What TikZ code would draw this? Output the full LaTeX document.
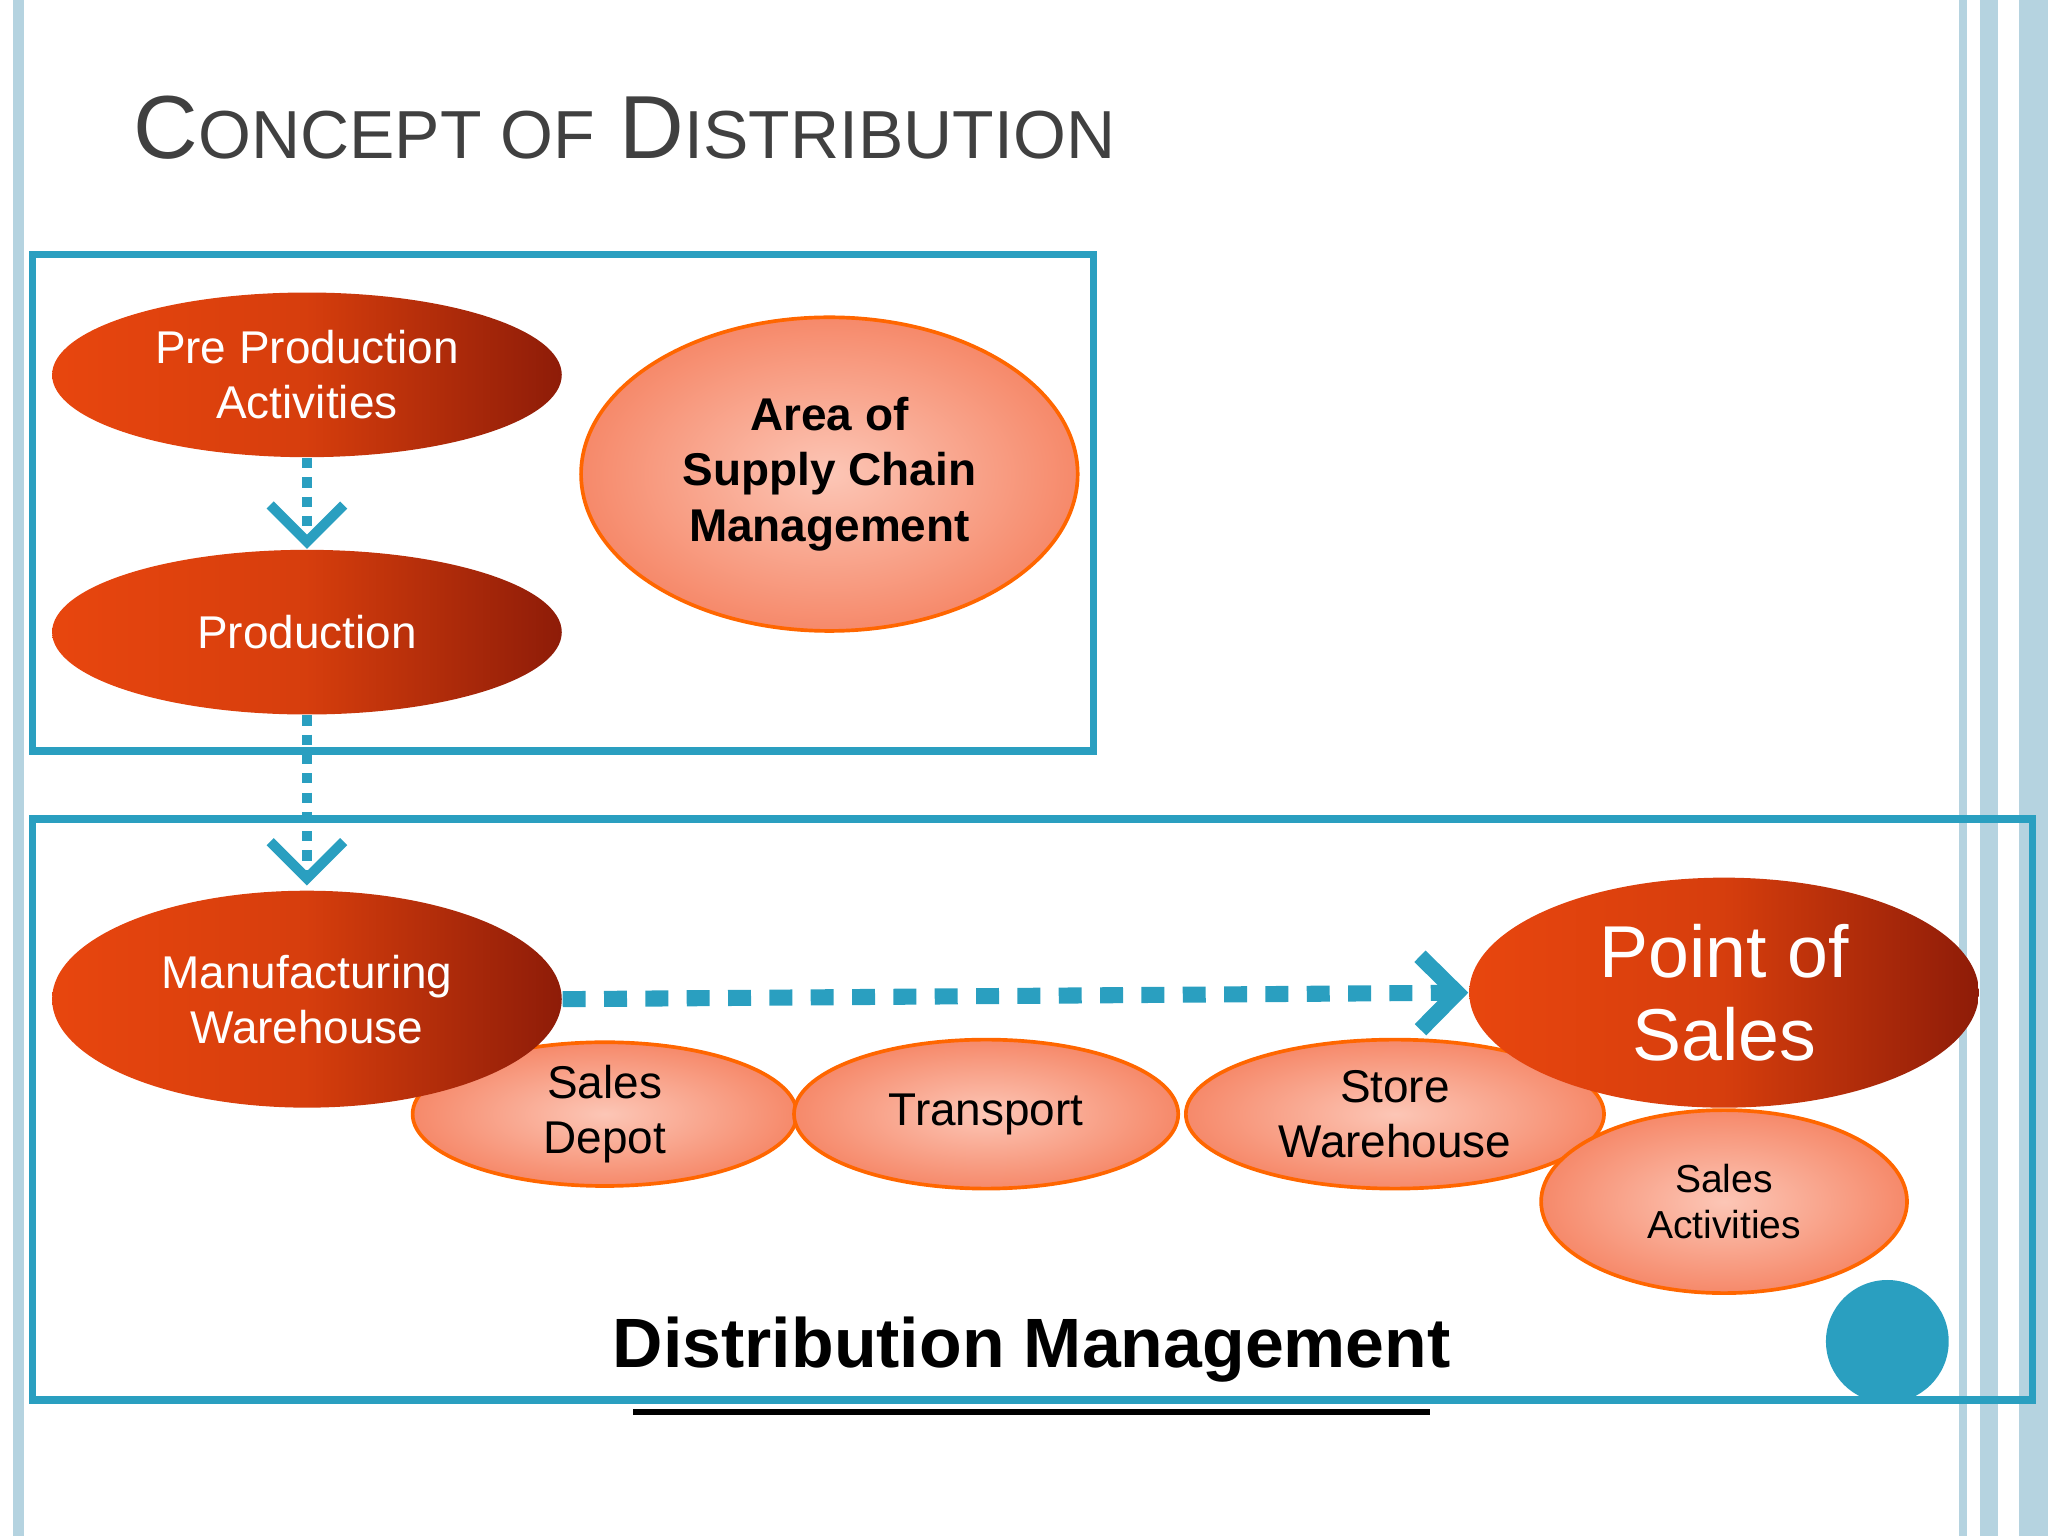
\documentclass[tikz,border=0pt]{standalone}
\usepackage{fontspec}
\setmainfont{Liberation Sans}
\usetikzlibrary{shapes.geometric,arrows.meta}
\definecolor{frameblue}{HTML}{2A9FC0}
\definecolor{stripe}{HTML}{B5D3E0}
\definecolor{darkred}{HTML}{8E1C08}
\definecolor{hotred}{HTML}{E8460E}
\definecolor{paleorange}{HTML}{FCC6B6}
\definecolor{midorange}{HTML}{F6896A}
\tikzset{
  dark_step/.style={ellipse, draw=none, left color=hotred, right color=darkred,
    middle color=hotred!80!darkred, text=white, align=center, inner sep=0pt},
  light_step/.style={ellipse, draw=orange!80!red, line width=0.8pt,
    inner color=paleorange, outer color=midorange, align=center, inner sep=0pt},
  flow/.style={frameblue, line width=2.2pt, dotted, -{Straight Barb[length=8pt,width=16pt]}},
  area_box/.style={draw=frameblue, line width=1.6pt}
}
\begin{document}
\begin{tikzpicture}[x=0.01cm,y=-0.01cm]
  \useasboundingbox (0,0) rectangle (1568,1176);
  % page decoration
  \fill[stripe] (10,0) rectangle (18,1176);
  \fill[stripe] (1500,0) rectangle (1506,1176);
  \fill[stripe] (1516,0) rectangle (1530,1176);
  \fill[stripe] (1546,0) rectangle (1568,1176);
  \node[anchor=west, text=black!75, font=\fontsize{19.5}{22}\selectfont] (title) at (90,98) {C{\fontsize{14.8}{18}\selectfont ONCEPT OF} D{\fontsize{14.8}{18}\selectfont ISTRIBUTION}};

  % boxes
  \draw[area_box] (25,195) rectangle (837,575);
  \draw[area_box] (25,627) rectangle (1556,1072);

  % supply chain area
  \node[dark_step, minimum width=3.9cm, minimum height=1.26cm, font=\fontsize{10}{12}\selectfont] (pre) at (235,287) {Pre Production\\Activities};
  \node[dark_step, minimum width=3.9cm, minimum height=1.26cm, font=\fontsize{10}{12}\selectfont] (prod) at (235,484) {Production};
  \node[light_step, minimum width=3.8cm, minimum height=2.4cm, font=\fontsize{10}{12}\selectfont\bfseries, text=black] (scm) at (635,363) {Area of\\Supply Chain\\Management};

  % distribution area
  \node[light_step, minimum width=2.94cm, minimum height=1.1cm, font=\fontsize{10}{12}\selectfont] (depot) at (463,853) {Sales\\Depot};
  \node[light_step, minimum width=2.94cm, minimum height=1.14cm, font=\fontsize{10}{12}\selectfont] (transport) at (755,853) {Transport};
  \node[light_step, minimum width=3.2cm, minimum height=1.14cm, font=\fontsize{10}{12}\selectfont] (store) at (1068,853) {Store\\Warehouse};
  \node[light_step, minimum width=2.8cm, minimum height=1.4cm, font=\fontsize{8.5}{10}\selectfont] (salesact) at (1320,920) {Sales\\Activities};
  \node[dark_step, minimum width=3.9cm, minimum height=1.66cm, font=\fontsize{10}{12}\selectfont] (mfg) at (235,765) {Manufacturing\\Warehouse};
  \node[dark_step, minimum width=3.9cm, minimum height=1.76cm, font=\fontsize{16}{18}\selectfont] (pos) at (1320,760) {Point of\\Sales};

  \node[font=\fontsize{15.2}{18}\selectfont\bfseries] (dm) at (790,1033) {Distribution Management};
  \draw[line width=1.4pt] ([yshift=-3pt]dm.south west) ++(8pt,0) -- ([yshift=-3pt,xshift=-8pt]dm.south east);
  \fill[frameblue] (1445,1027) circle (47);

  % flows
  \draw[flow] (pre) -- (prod);
  \draw[flow] (prod) -- (235,678);
  \draw[flow, line width=3.5pt, dash pattern=on 5pt off 4pt] (mfg.east) -- (pos.west);
\end{tikzpicture}
\end{document}
